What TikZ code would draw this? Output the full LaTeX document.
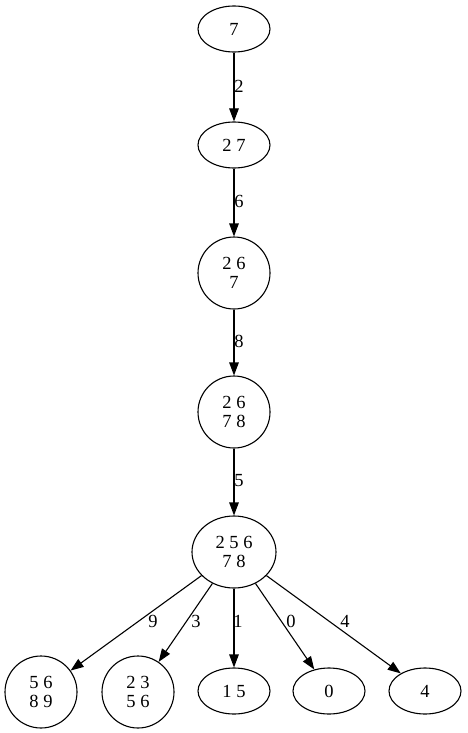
\documentclass[tikz,border=0pt]{standalone}
\usepackage{fontspec}
\setmainfont{Liberation Serif}
\usetikzlibrary{shapes.geometric}
\usetikzlibrary{arrows.meta}
\tikzset{
  setnode/.style={draw, ellipse, inner sep=0pt, align=center,
    minimum width=72pt, minimum height=46pt,
    font=\fontsize{18.5}{19}\selectfont},
  setcirc/.style={setnode, circle, minimum size=72pt},
  setwide/.style={setnode, minimum width=84pt, minimum height=72pt},
  lbl/.style={inner sep=0pt, font=\fontsize{18.5}{19}\selectfont},
  edge/.style={draw, line width=1.1pt,
    -{Triangle[length=13pt,width=9.5pt]}},
}
\begin{document}
\begin{tikzpicture}[
  x=1pt, y=-1pt,
  line width=1.1pt,
]

  \useasboundingbox[fill=white] (0,0) rectangle (467,733);

  % Chain of sets
  \node[setnode] (s7)     at (234, 29)  {7};
  \node[setnode] (s27)    at (234, 145) {2 7};
  \node[setcirc] (s267)   at (234, 273) {2 6\\7};
  \node[setcirc] (s2678)  at (234, 412) {2 6\\7 8};
  \node[setwide] (s25678) at (234, 552) {2 5 6\\7 8};

  % Leaves
  \node[setcirc] (s5689)  at (41, 692)  {5 6\\8 9};
  \node[setcirc] (s2356)  at (138, 692) {2 3\\5 6};
  \node[setnode] (s15)    at (234, 691) {1 5};
  \node[setnode] (s0)     at (329, 691) {0};
  \node[setnode] (s4)     at (425, 691) {4};

  % Edges of the chain
  \draw[edge] (s7)    -- (s27);
  \draw[edge] (s27)   -- (s267);
  \draw[edge] (s267)  -- (s2678);
  \draw[edge] (s2678) -- (s25678);

  % Edges to the leaves
  \draw[edge] (s25678) -- (s5689);
  \draw[edge] (s25678) -- (s2356);
  \draw[edge] (s25678) -- (s15);
  \draw[edge] (s25678) -- (s0);
  \draw[edge] (s25678) -- (s4);

  % Edge labels
  \node[lbl] (l2) at (239, 86)  {2};
  \node[lbl] (l6) at (239, 201) {6};
  \node[lbl] (l8) at (239, 341) {8};
  \node[lbl] (l5) at (239, 481) {5};
  \node[lbl] (l9) at (153, 621) {9};
  \node[lbl] (l3) at (196, 621) {3};
  \node[lbl] (l1) at (238, 621) {1};
  \node[lbl] (l0) at (291, 621) {0};
  \node[lbl] (l4) at (345, 621) {4};

\end{tikzpicture}
\end{document}
